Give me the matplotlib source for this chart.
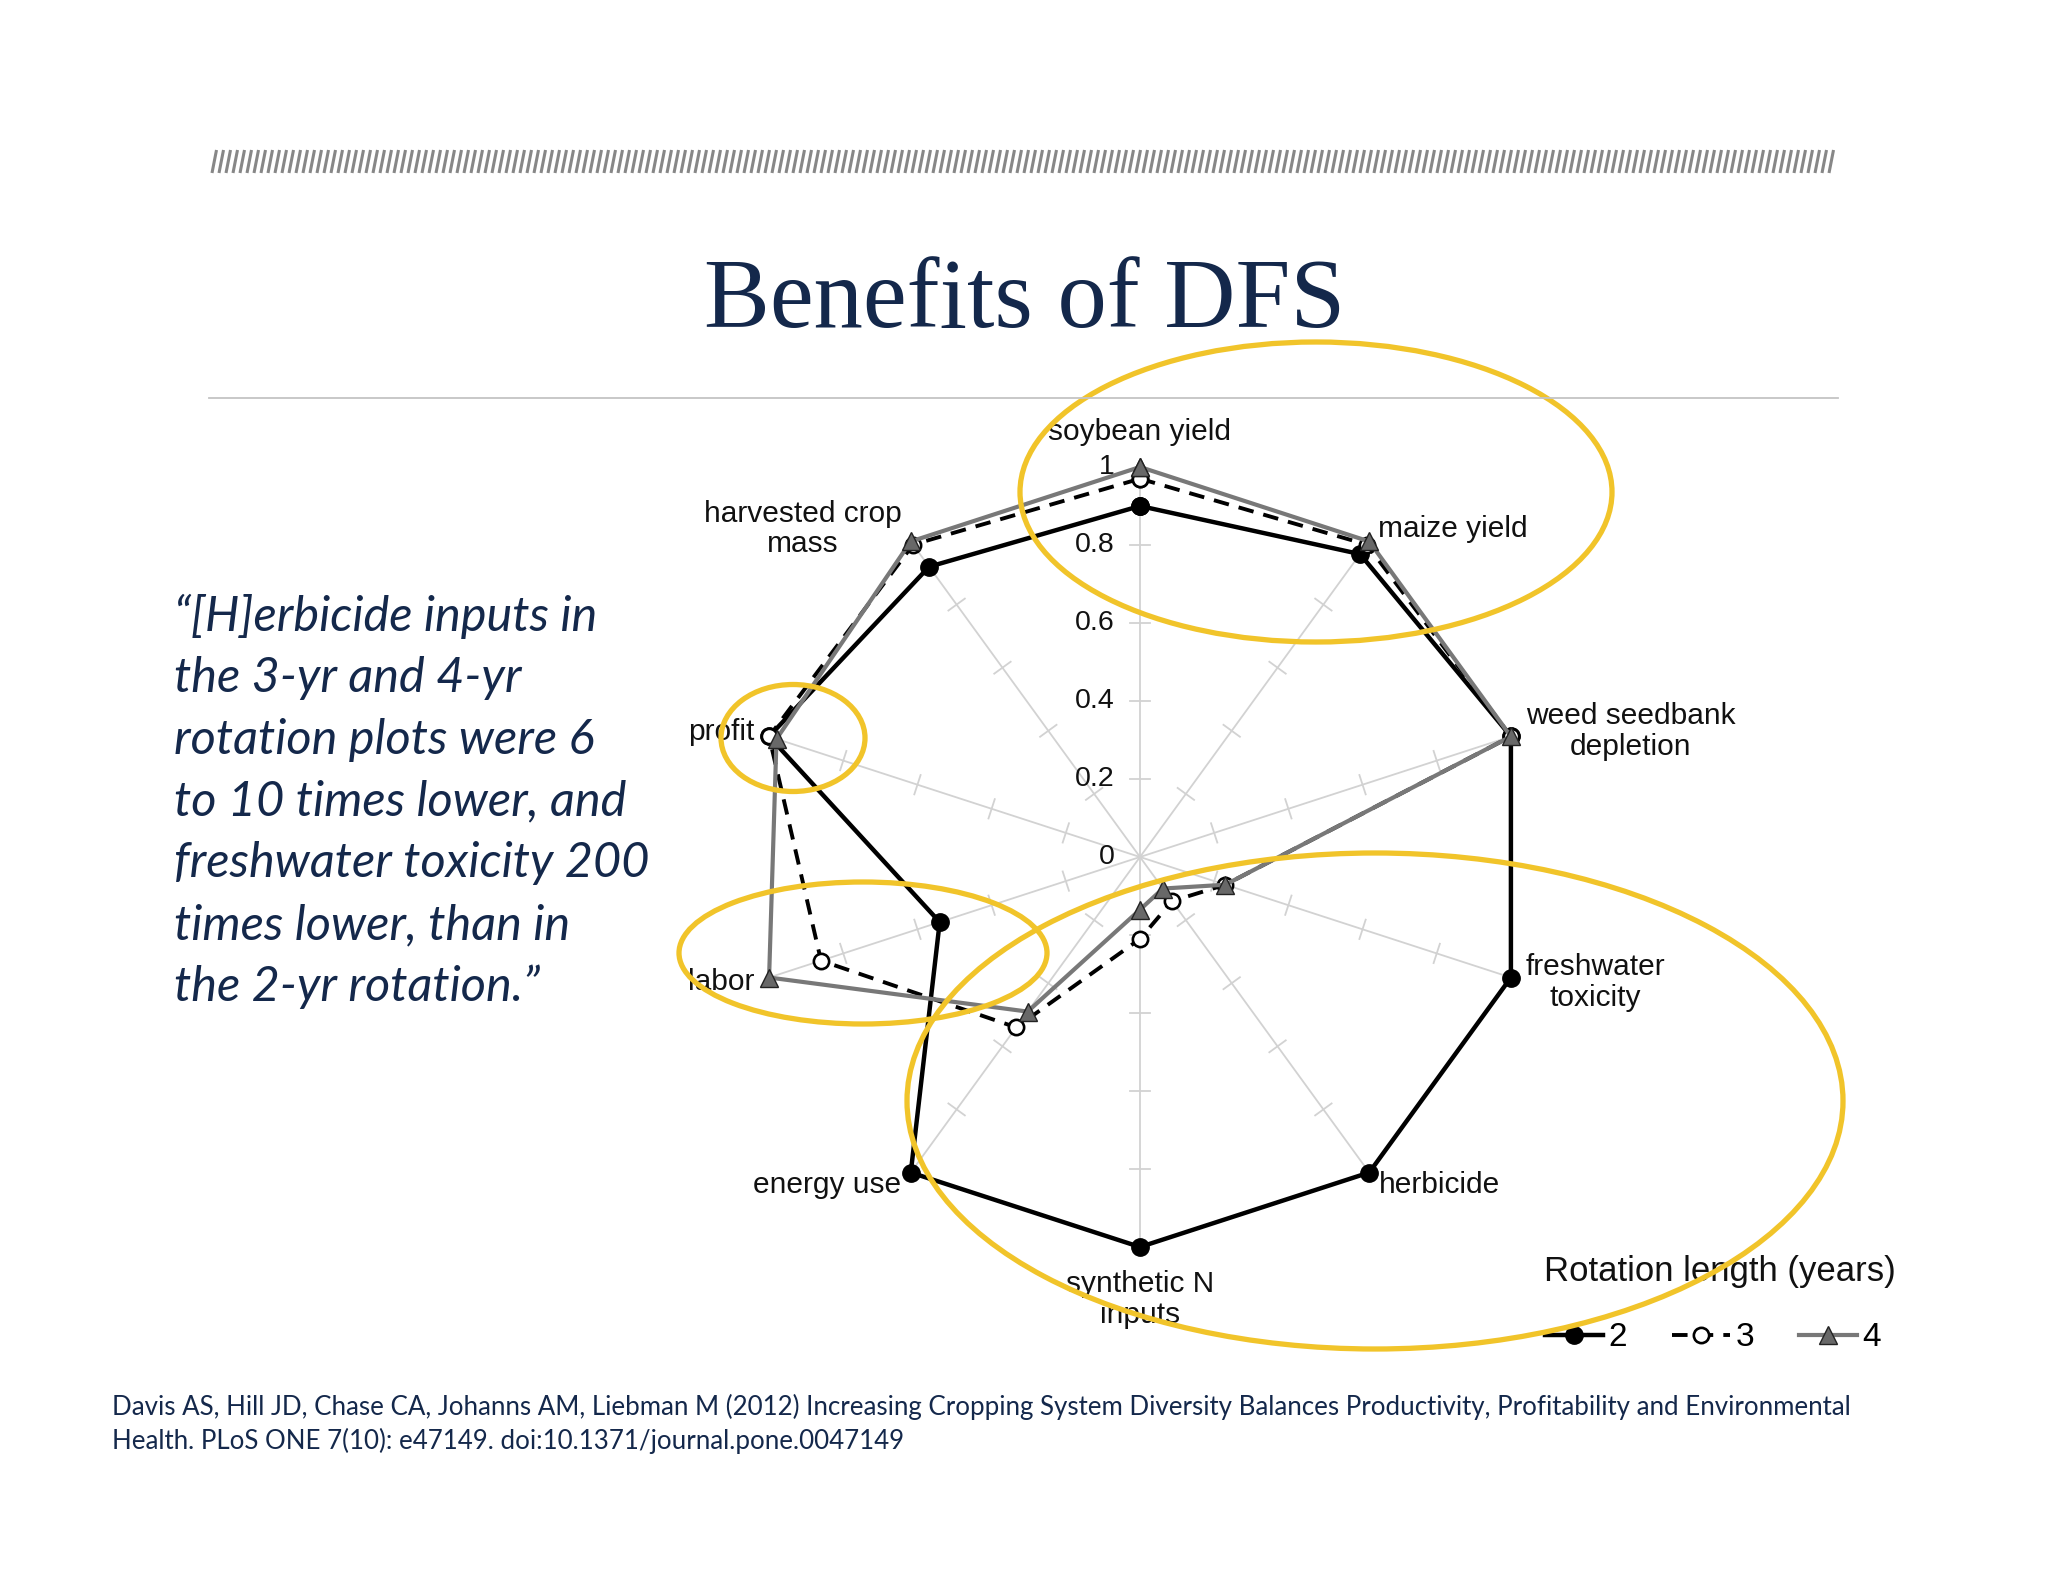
import matplotlib
matplotlib.use("Agg")
import matplotlib.pyplot as plt
from matplotlib.patches import Ellipse
from matplotlib.collections import LineCollection
import numpy as np

# radar data (clockwise from top)
axis_labels = ["soybean yield", "maize yield", "weed seedbank\ndepletion",
               "freshwater\ntoxicity", "herbicide", "synthetic N\ninputs",
               "energy use", "labor", "profit", "harvested crop\nmass"]
rot2 = [0.90, 0.96, 1.0, 1.0, 1.0, 1.0, 1.0, 0.54, 1.0, 0.92]
rot3 = [0.97, 0.99, 1.0, 0.23, 0.14, 0.21, 0.54, 0.86, 1.0, 0.99]
rot4 = [1.0, 1.0, 1.0, 0.23, 0.10, 0.135, 0.49, 1.0, 0.98, 1.0]
series_names = ["2", "3", "4"]
radial_ticks = [0, 0.2, 0.4, 0.6, 0.8, 1]

title = "Benefits of DFS"
quote_lines = ["\u201c[H]erbicide inputs in", "the 3-yr and 4-yr",
               "rotation plots were 6", "to 10 times lower, and",
               "freshwater toxicity 200", "times lower, than in",
               "the 2-yr rotation.\u201d"]
citation = ["Davis AS, Hill JD, Chase CA, Johanns AM, Liebman M (2012) Increasing Cropping System Diversity Balances Productivity, Profitability and Environmental",
            "Health. PLoS ONE 7(10): e47149. doi:10.1371/journal.pone.0047149"]

NAVY = "#14284b"
GOLD = "#f1c42a"
W, H = 2048, 1582

fig = plt.figure(figsize=(W / 100, H / 100), dpi=100)
fig.patch.set_facecolor("white")

# radar axes, centre and unit radius in pixels
cx, cy, R = 1140, 857, 390
xr, yr = 1.5, 1.4
ax = fig.add_axes([(cx - xr * R) / W, (H - cy - yr * R) / H, 2 * xr * R / W, 2 * yr * R / H])
ax.set_xlim(-xr, xr)
ax.set_ylim(-yr, yr)
ax.axis("off")

n = len(axis_labels)
ang = np.arange(n) * 2 * np.pi / n
sx, sy = np.sin(ang), np.cos(ang)

# spokes with small cross ticks
for i in range(n):
    ax.plot([0, sx[i]], [0, sy[i]], color="#d2d2d2", lw=1.3, zorder=1)
    for t in radial_ticks[1:-1]:
        px, py = t * sx[i], t * sy[i]
        ox, oy = 0.026 * sy[i], -0.026 * sx[i]
        ax.plot([px - ox, px + ox], [py - oy, py + oy], color="#d2d2d2", lw=1.3, zorder=1)

for t in radial_ticks:
    ax.text(-0.065, t, f"{t:g}", ha="right", va="center", fontsize=20.5,
            family="Liberation Sans", color="#111111")


def closed(vals):
    v = np.append(vals, vals[0])
    a = np.append(ang, ang[0])
    return v * np.sin(a), v * np.cos(a)


h2, = ax.plot(*closed(rot2), color="black", lw=3.2, marker="o", ms=12.5,
              mfc="black", mec="black", zorder=3)
h3, = ax.plot(*closed(rot3), color="black", lw=2.8, ls=(0, (4, 2.6)), marker="o",
              ms=11, mfc="white", mec="black", mew=1.9, zorder=4)
h4, = ax.plot(*closed(rot4), color="#787878", lw=3.0, marker="^", ms=12.5,
              mfc="#686868", mec="#222222", mew=1.0, zorder=5)

for i, lab in enumerate(axis_labels):
    if i == 0:
        x, y, ha = 0, 1.09, "center"
    elif i == n // 2:
        x, y, ha = 0, -1.135, "center"
    else:
        x, y = 1.04 * sx[i], 1.04 * sy[i]
        ha = "left" if sx[i] > 0 else "right"
    ax.text(x, y, lab, ha=ha, va="center", multialignment="center", fontsize=21.5,
            family="Liberation Sans", color="#111111", linespacing=1.12)

fig.text(1544 / W, 1 - 1271 / H, "Rotation length (years)", ha="left", va="center",
         family="Liberation Sans", fontsize=25, color="#111111")
leg = fig.legend([h2, h3, h4], series_names, ncol=3, frameon=False,
                 loc="center", bbox_to_anchor=(1713 / W, 1 - 1338 / H), handlelength=1.75,
                 columnspacing=1.35, handletextpad=0.15,
                 prop={"family": "Liberation Sans", "size": 24})

# slide overlay in pixel coordinates
ov = fig.add_axes([0, 0, 1, 1])
ov.set_xlim(0, W)
ov.set_ylim(H, 0)
ov.axis("off")
ov.patch.set_alpha(0)
ov.set_zorder(10)

hx = np.arange(212, 1832, 7.0)
ov.add_collection(LineCollection([[(x, 173), (x + 4.5, 150)] for x in hx],
                                 colors="#878787", linewidths=2.2))
ov.plot([209, 1838], [398, 398], color="#c4c4c4", lw=1.3)

ov.text(1025, 327, title, ha="center", va="baseline", family="Liberation Serif",
        fontsize=71, color=NAVY)

for k, line in enumerate(quote_lines):
    ov.text(174, 616 + k * 61.8, line, ha="left", va="center", family="Lato",
            style="italic", fontsize=35, color=NAVY)

for k, line in enumerate(citation):
    ov.text(112, 1407 + k * 34, line, ha="left", va="center", family="Lato",
            fontsize=18.6, color=NAVY)

for (ex, ey, ew, eh) in [(1316, 492, 592, 300), (793, 738, 144, 107),
                         (863, 953, 368, 142), (1375, 1101, 936, 496)]:
    ov.add_patch(Ellipse((ex, ey), ew, eh, fill=False, ec=GOLD, lw=3.8))

fig.savefig("out.png", dpi=100, facecolor="white")
